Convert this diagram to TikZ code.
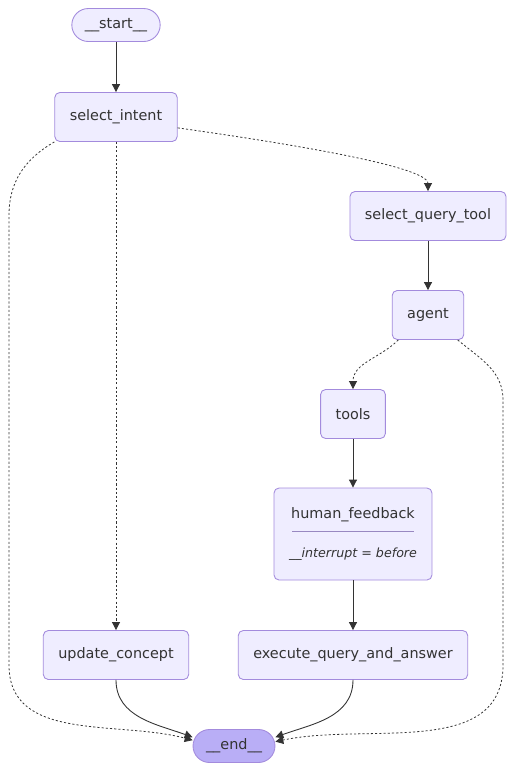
\documentclass[tikz,border=0pt]{standalone}
\usepackage{fontspec}
\setmainfont{DejaVu Sans}
\usetikzlibrary{arrows.meta}
\definecolor{nodefill}{HTML}{EFEDFF}
\definecolor{nodeline}{HTML}{A38BDD}
\definecolor{endfill}{HTML}{B9AEF6}
\definecolor{edgecol}{HTML}{333333}

\begin{document}
\begin{tikzpicture}[x=0.02cm, y=0.02cm,
    every node/.style = {font=\fontsize{8.2}{10}\selectfont, text=edgecol},
    box/.style = {draw=nodeline, fill=nodefill, line width=0.5pt,
        rounded corners=0.1cm, inner xsep=0.3cm, minimum height=0.98cm},
    pill/.style = {box, rounded corners=0.33cm, minimum height=0.66cm, inner xsep=0.26cm},
    edge/.style = {draw=edgecol, line width=0.5pt, -{Triangle[length=4.5pt,width=4.5pt]}},
    cond/.style = {edge, line width=0.45pt, dash pattern=on 1.2pt off 1.2pt}]
\useasboundingbox (0,0) rectangle (515,-772);

\node[pill] (start) at (116,-25) {\_\_start\_\_};
\node[box] (intent) at (116,-117) {select\_intent};
\node[box] (querytool) at (428,-216) {select\_query\_tool};
\node[box] (agent) at (428,-315) {agent};
\node[box] (tools) at (353,-414) {tools};
\node[box, minimum height=1.84cm, align=center] (feedback) at (353,-534)
    {human\_feedback\\[12.5pt]{\fontsize{7.2}{9}\selectfont\itshape \_\_interrupt = before}};
\node[box] (concept) at (116,-655) {update\_concept};
\node[box] (answer) at (353,-655) {execute\_query\_and\_answer};
\node[pill, fill=endfill] (finish) at (234,-746) {\_\_end\_\_};
\draw[nodeline!70!gray, line width=0.4pt] (292,-531) -- (414,-531);

\coordinate (lbend1) at (9,-215);
\coordinate (lbend2) at (9,-665);
\coordinate (rbend1) at (503,-400);
\coordinate (rbend2) at (503,-665);

\draw[edge] (start) -- (intent);
\draw[cond] (intent.-10) to[out=-8, in=90, in looseness=0.25] (querytool.north);
\draw[cond] (intent) -- (concept);
\draw[cond] (intent.-158) to[out=-150, in=90] (lbend1) -- (lbend2)
    to[out=-90, in=165] (finish.172);
\draw[edge] (querytool) -- (agent);
\draw[cond] (agent.-140) to[out=-135, in=90] (tools.north);
\draw[cond] (agent.-40) to[out=-40, in=90] (rbend1) -- (rbend2)
    to[out=-90, in=12] (finish.6);
\draw[edge] (tools) -- (feedback);
\draw[edge] (feedback) -- (answer);
\draw[edge] (concept.south) to[out=-90, in=160] (finish.168);
\draw[edge] (answer.south) to[out=-90, in=20] (finish.12);
\end{tikzpicture}
\end{document}
